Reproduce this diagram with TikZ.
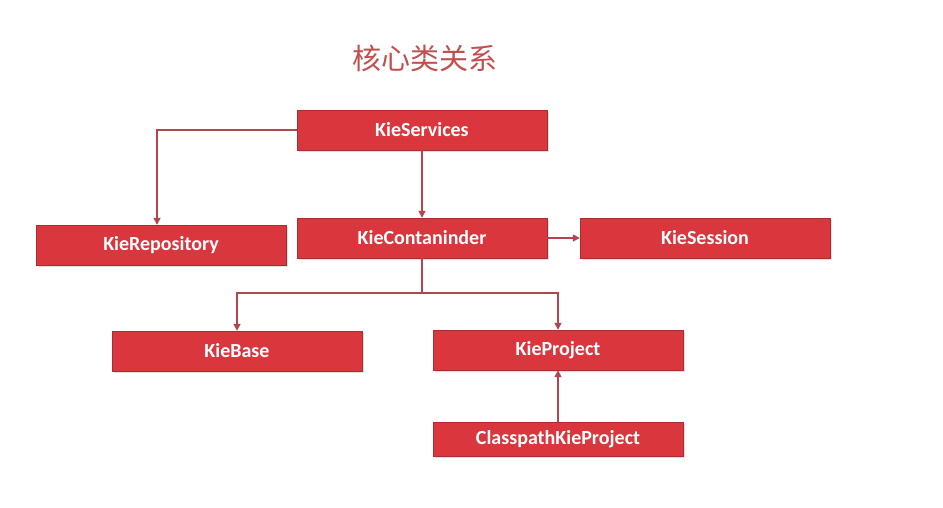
\documentclass[tikz,border=0pt]{standalone}
\usepackage{fontspec}
\setmainfont{Carlito}
\newfontfamily\cjk{Noto Sans CJK SC}
\usetikzlibrary{arrows.meta,shadows}
\definecolor{boxred}{HTML}{D9363E}
\definecolor{linered}{HTML}{B5454C}
\definecolor{titlered}{HTML}{C0504D}
\begin{document}
\begin{tikzpicture}[x=1pt,y=-1pt,
  cls/.style={draw=boxred!80!black,fill=boxred,text=white,font=\bfseries\fontsize{20}{22}\selectfont,
    minimum width=250pt,minimum height=40pt,inner sep=0pt,drop shadow={opacity=0.25,shadow xshift=2pt,shadow yshift=-2pt}},
  conn/.style={draw=linered,line width=1.6pt,-{Triangle[length=7pt,width=7pt]}}]
\useasboundingbox[fill=white] (0,0) rectangle (943,507);
\node[text=titlered,font=\cjk\fontsize{29}{32}\selectfont] (title) at (425,58) {核心类关系};
\node[cls] (svc) at (422,130) {KieServices};
\node[cls] (repo) at (161,245) {KieRepository};
\node[cls] (cont) at (422,238) {KieContaninder};
\node[cls] (sess) at (705,238) {KieSession};
\node[cls] (base) at (237,351) {KieBase};
\node[cls] (proj) at (558,350) {KieProject};
\node[cls,minimum height=34pt] (cp) at (558,439) {ClasspathKieProject};
\coordinate (j) at (cont.south |- 0,293);
\draw[conn] (svc.west) -| (repo.north -| 157,0);
\draw[conn] (svc) -- (cont);
\draw[conn] (cont) -- (sess);
\draw[conn] (cont.south) -- (j) -| (base.north);
\draw[conn] (j) -| (proj.north);
\draw[conn] (cp) -- (proj);
\end{tikzpicture}
\end{document}
